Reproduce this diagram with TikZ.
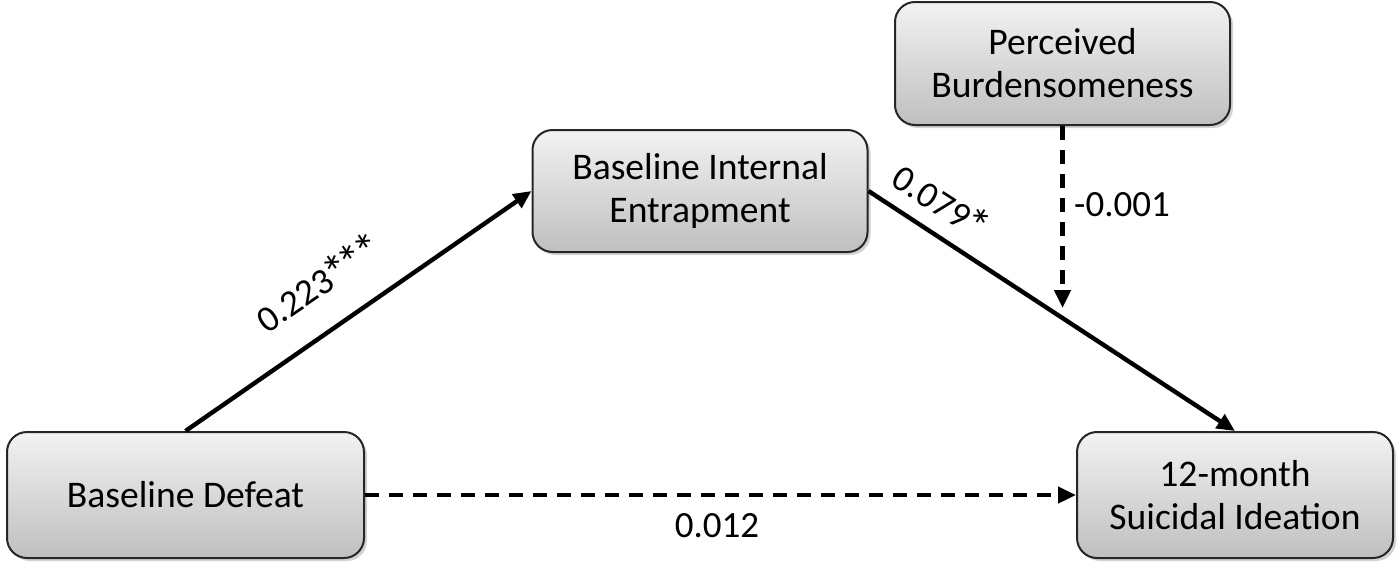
\documentclass[tikz,border=0pt]{standalone}
\usepackage{fontspec}
\setmainfont{Carlito}
\usetikzlibrary{arrows.meta,shadows}
\newcommand\bigast{\kern-0.07em\raisebox{-0.25ex}{\scalebox{1.3}{*}}\kern-0.07em}
\begin{document}
\begin{tikzpicture}[x=0.5pt,y=-0.5pt,
  box/.style={draw=black!85, line width=1pt, rounded corners=10pt,
    top color=gray!10, bottom color=gray!50, align=center, inner sep=0pt,
    drop shadow={shadow xshift=1.5pt, shadow yshift=-1.5pt, opacity=0.35},
    font=\fontsize{18.8}{21.5}\selectfont},
  path/.style={line width=2.2pt, -{Triangle[length=9pt,width=8pt]}},
  dpath/.style={path, dash pattern=on 7pt off 5pt},
  lbl/.style={font=\fontsize{18.5}{20}\selectfont, inner sep=0pt}]
\useasboundingbox (0,0) rectangle (1400,568);
\node[box, minimum width=178.5pt, minimum height=63pt] (def) at (185.5,495) {Baseline Defeat};
\node[box, minimum width=167.5pt, minimum height=61pt] (ent) at (700,191) {Baseline Internal\\Entrapment};
\node[box, minimum width=167.5pt, minimum height=61.5pt] (bur) at (1062.5,63.5) {Perceived\\Burdensomeness};
\node[box, minimum width=158pt, minimum height=63pt] (ide) at (1235,495) {12-month\\Suicidal Ideation};
\coordinate (mod) at (1062.5,308);
\draw[path] (def.north) -- (ent.west);
\draw[path] (ent.east) -- (ide.north);
\draw[dpath] (def.east) -- (ide.west);
\draw[dpath] (bur.south) -- (mod);
\node[lbl, rotate=34.3] (l1) at (318,284) {0.223\bigast\bigast\bigast};
\node[lbl, rotate=-32.6] (l2) at (940,202) {0.079\bigast};
\node[lbl] (l3) at (1122,205) {-0.001};
\node[lbl] (l4) at (717,526) {0.012};
\end{tikzpicture}
\end{document}
